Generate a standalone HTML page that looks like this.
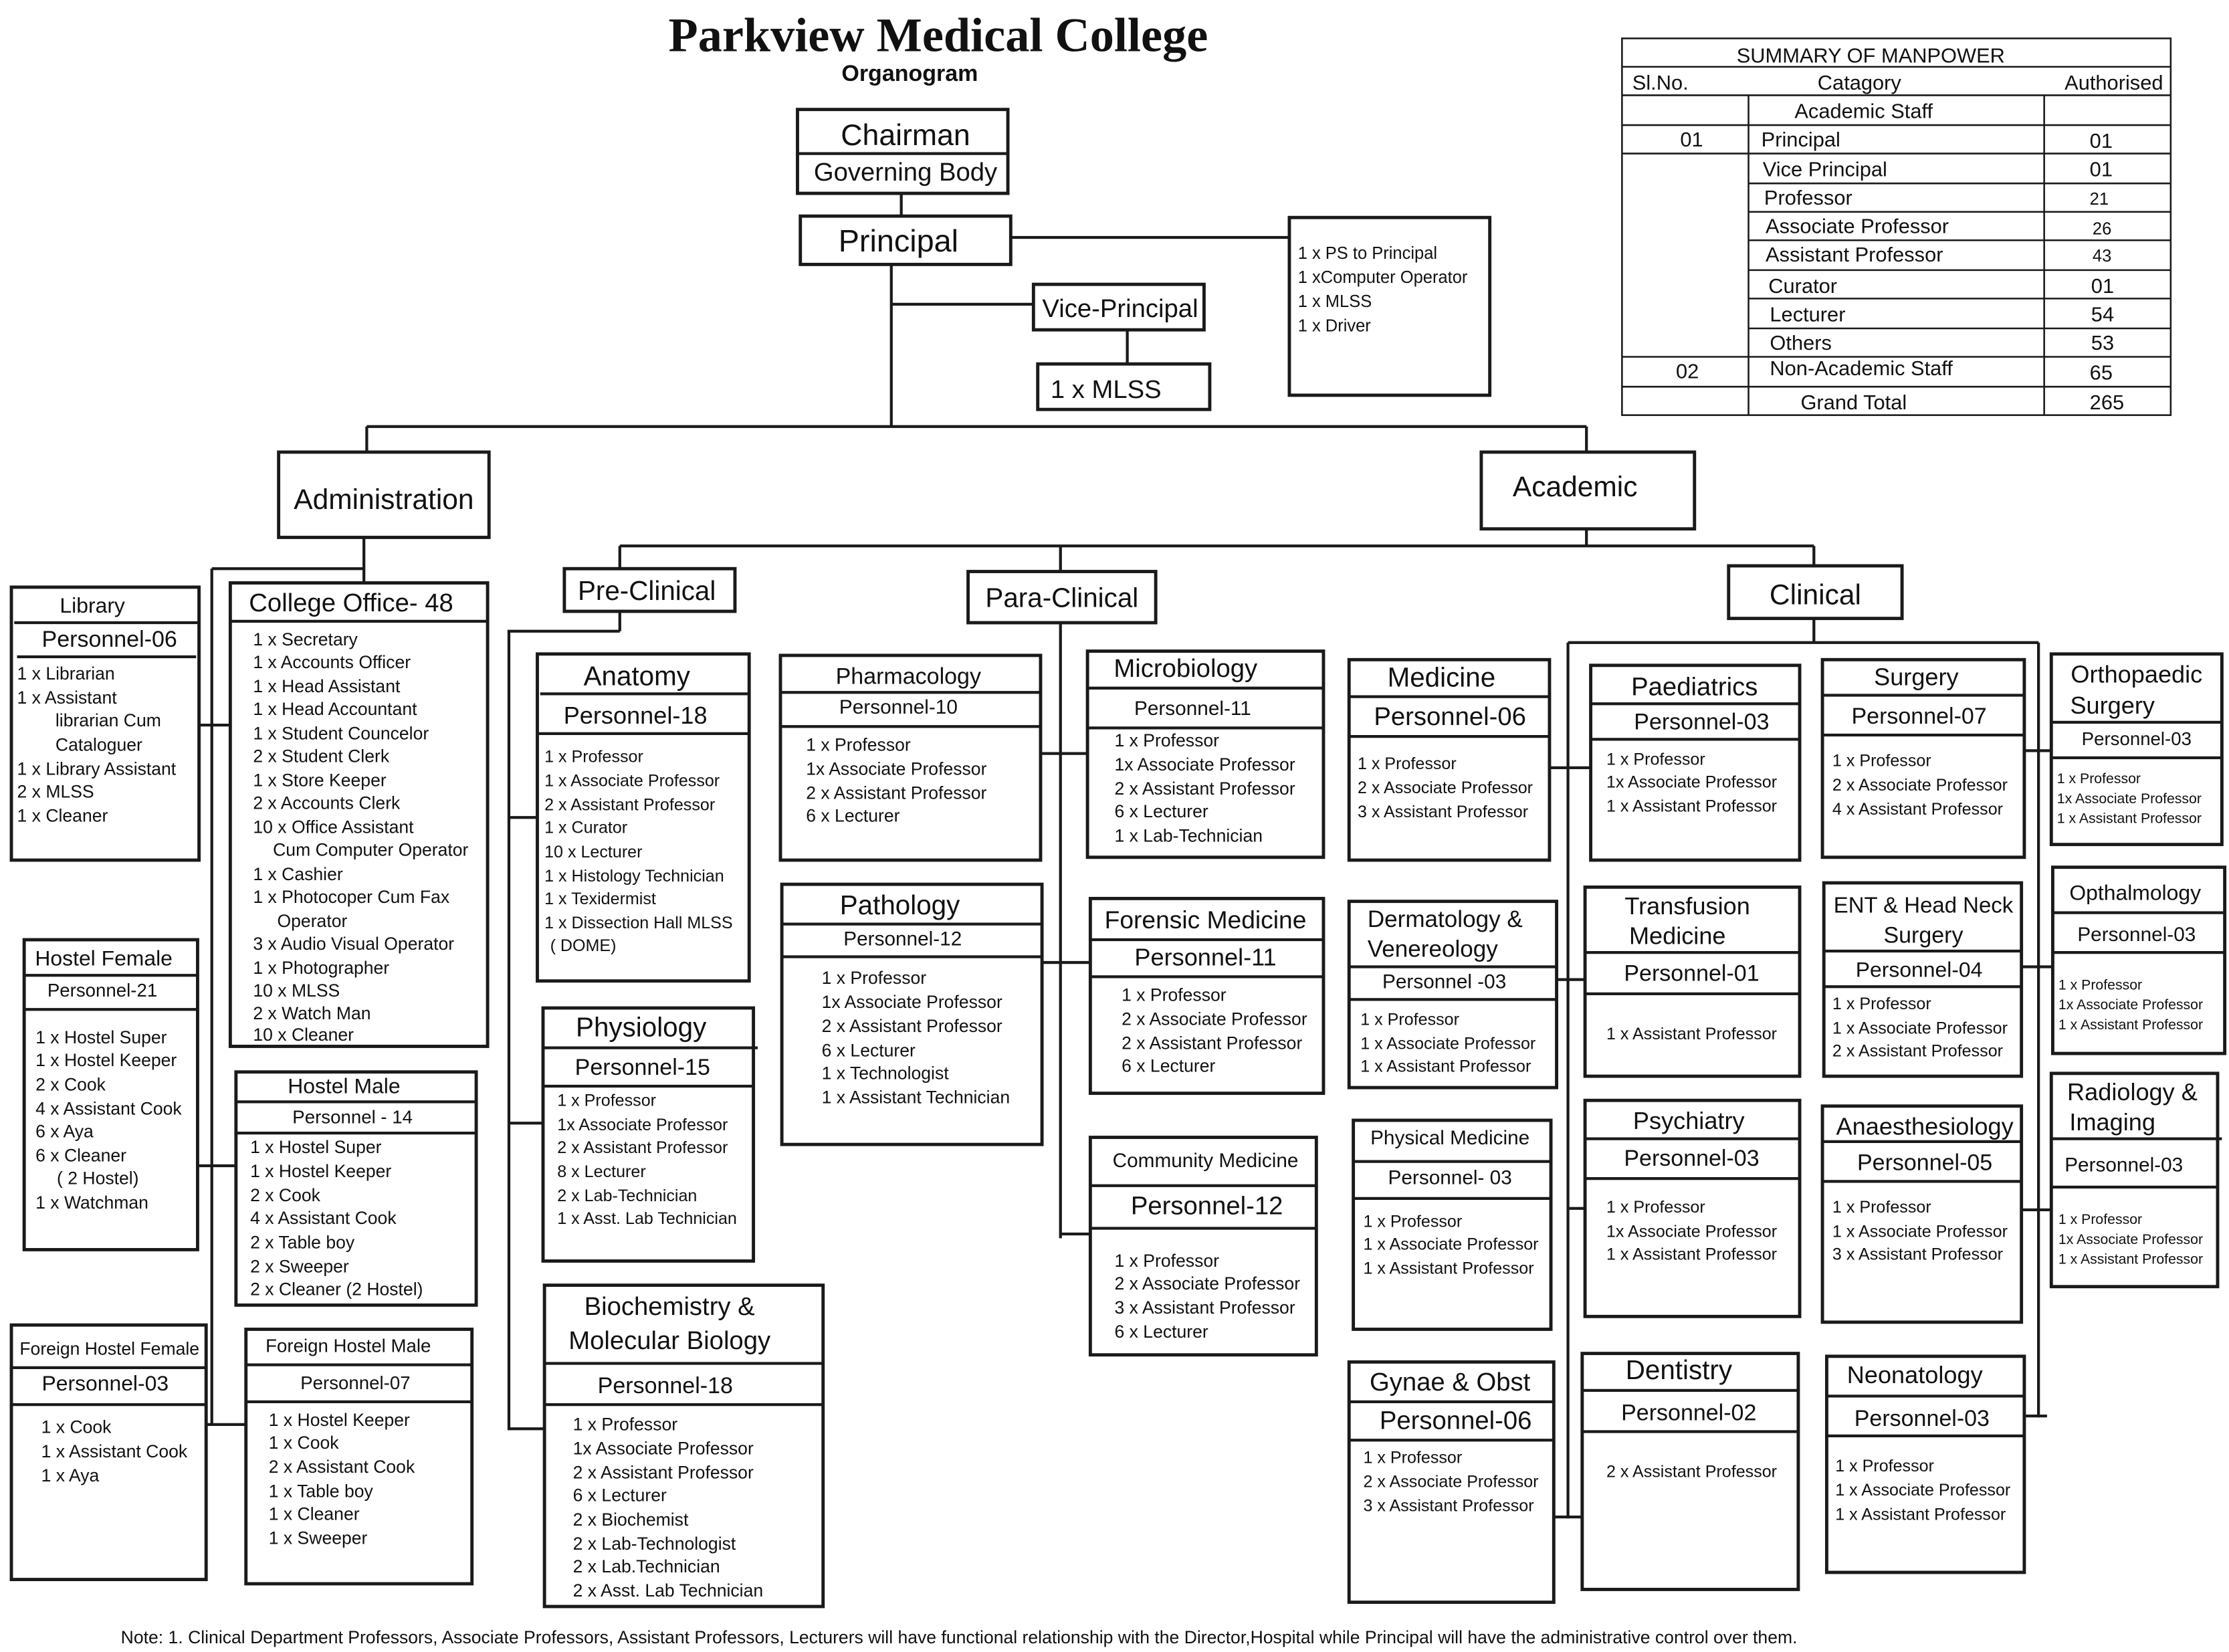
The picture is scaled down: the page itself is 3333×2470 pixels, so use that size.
<!DOCTYPE html>
<html><head><meta charset="utf-8"><style>
html,body{margin:0;padding:0;background:#fff}
svg{display:block}
text{font-family:"Liberation Sans Narrow","Liberation Sans",sans-serif;fill:#111}
.b{fill:none;stroke:#1a1a1a;stroke-width:2.3}
.l{stroke:#1a1a1a;stroke-width:2;fill:none}
.t{stroke:#1a1a1a;stroke-width:1.2;fill:none}
.i{font-size:12.5px}
.s{font-size:11.8px}
</style></head><body>
<svg width="3333" height="2470" viewBox="0 0 1568 1162" preserveAspectRatio="none" xmlns="http://www.w3.org/2000/svg">
<text x="660" y="36" text-anchor="middle" style="font-family:'Liberation Serif',serif;font-weight:bold;font-size:34px">Parkview Medical College</text>
<text x="640" y="57" text-anchor="middle" style="font-family:'Liberation Sans',sans-serif;font-weight:bold;font-size:16px">Organogram</text>

<rect class="t" x="1141" y="27" width="386" height="265"/>
<g class="t">
<line x1="1141" y1="47" x2="1527" y2="47"/>
<line x1="1141" y1="67" x2="1527" y2="67"/>
<line x1="1141" y1="88" x2="1527" y2="88"/>
<line x1="1141" y1="108" x2="1527" y2="108"/>
<line x1="1230" y1="129" x2="1527" y2="129"/>
<line x1="1230" y1="149" x2="1527" y2="149"/>
<line x1="1230" y1="169" x2="1527" y2="169"/>
<line x1="1230" y1="190" x2="1527" y2="190"/>
<line x1="1230" y1="210" x2="1527" y2="210"/>
<line x1="1230" y1="231" x2="1527" y2="231"/>
<line x1="1141" y1="251" x2="1527" y2="251"/>
<line x1="1141" y1="272" x2="1527" y2="272"/>
<line x1="1230" y1="67" x2="1230" y2="292"/>
<line x1="1438" y1="67" x2="1438" y2="292"/>
</g>
<g style="font-size:14.5px">
<text x="1316" y="44" text-anchor="middle">SUMMARY OF MANPOWER</text>
<text x="1168" y="63" text-anchor="middle">Sl.No.</text>
<text x="1308" y="63" text-anchor="middle">Catagory</text>
<text x="1487" y="63" text-anchor="middle">Authorised</text>
<text x="1311" y="83" text-anchor="middle">Academic Staff</text>
<text x="1190" y="103" text-anchor="middle">01</text>
<text x="1239" y="103">Principal</text><text x="1470" y="104">01</text>
<text x="1240" y="124">Vice Principal</text><text x="1470" y="124">01</text>
<text x="1241" y="144">Professor</text><text x="1470" y="144" style="font-size:12px">21</text>
<text x="1242" y="164">Associate Professor</text><text x="1472" y="165" style="font-size:12px">26</text>
<text x="1242" y="184">Assistant Professor</text><text x="1472" y="184" style="font-size:12px">43</text>
<text x="1244" y="206">Curator</text><text x="1471" y="206">01</text>
<text x="1245" y="226">Lecturer</text><text x="1471" y="226">54</text>
<text x="1245" y="246">Others</text><text x="1471" y="246">53</text>
<text x="1187" y="266" text-anchor="middle">02</text>
<text x="1245" y="264">Non-Academic Staff</text><text x="1470" y="267">65</text>
<text x="1304" y="288" text-anchor="middle">Grand Total</text><text x="1470" y="288">265</text>
</g>

<rect class="b" x="561" y="77" width="148" height="59"/>
<line class="l" x1="561" y1="108" x2="709" y2="108"/>
<text x="637" y="102" text-anchor="middle" style="font-size:21px">Chairman</text>
<text x="637" y="127" text-anchor="middle" style="font-size:18px">Governing Body</text>
<line class="l" x1="634" y1="136" x2="634" y2="152"/>
<rect class="b" x="563" y="152" width="148" height="34"/>
<text x="632" y="177" text-anchor="middle" style="font-size:22px">Principal</text>
<line class="l" x1="711" y1="167" x2="907" y2="167"/>
<rect class="b" x="907" y="153" width="141" height="125"/>
<g style="font-size:12px">
<text x="913" y="182">1 x PS to Principal</text>
<text x="913" y="199">1 xComputer Operator</text>
<text x="913" y="216">1 x MLSS</text>
<text x="913" y="233">1 x Driver</text>
</g>
<line class="l" x1="627" y1="186" x2="627" y2="300"/>
<line class="l" x1="627" y1="214" x2="727" y2="214"/>
<rect class="b" x="727" y="200" width="120" height="32"/>
<text x="788" y="223" text-anchor="middle" style="font-size:18px">Vice-Principal</text>
<line class="l" x1="793" y1="232" x2="793" y2="255"/>
<rect class="b" x="730" y="256" width="121" height="32"/>
<text x="778" y="280" text-anchor="middle" style="font-size:18px">1 x MLSS</text>

<line class="l" x1="258" y1="300" x2="1116" y2="300"/>
<line class="l" x1="258" y1="300" x2="258" y2="318"/>
<line class="l" x1="1116" y1="300" x2="1116" y2="318"/>
<rect class="b" x="196" y="318" width="148" height="60"/>
<text x="270" y="358" text-anchor="middle" style="font-size:20px">Administration</text>
<rect class="b" x="1042" y="318" width="150" height="54"/>
<text x="1108" y="349" text-anchor="middle" style="font-size:20px">Academic</text>

<line class="l" x1="256" y1="378" x2="256" y2="410"/>
<line class="l" x1="149" y1="400" x2="256" y2="400"/>
<line class="l" x1="149" y1="400" x2="149" y2="1003"/>
<line class="l" x1="140" y1="510" x2="162" y2="510"/>
<line class="l" x1="139" y1="820" x2="166" y2="820"/>
<line class="l" x1="145" y1="1002" x2="173" y2="1002"/>

<rect class="b" x="8" y="413" width="132" height="192"/>
<line class="l" x1="10" y1="438" x2="140" y2="438"/>
<line class="l" x1="12" y1="462" x2="138" y2="462"/>
<text x="65" y="431" text-anchor="middle" style="font-size:15px">Library</text>
<text x="77" y="455" text-anchor="middle" style="font-size:16px">Personnel-06</text>
<g class="i">
<text x="12" y="478">1 x Librarian</text>
<text x="12" y="495">1 x   Assistant</text>
<text x="39" y="511">librarian Cum</text>
<text x="39" y="528">Cataloguer</text>
<text x="12" y="545">1 x Library Assistant</text>
<text x="12" y="561">2 x MLSS</text>
<text x="12" y="578">1 x Cleaner</text>
</g>

<rect class="b" x="162" y="410" width="181" height="326"/>
<line class="l" x1="162" y1="437" x2="344" y2="437"/>
<text x="247" y="430" text-anchor="middle" style="font-size:18px">College Office- 48</text>
<g class="i">
<text x="178" y="454">1 x  Secretary</text>
<text x="178" y="470">1 x Accounts Officer</text>
<text x="178" y="487">1 x Head Assistant</text>
<text x="178" y="503">1 x Head Accountant</text>
<text x="178" y="520">1 x  Student Councelor</text>
<text x="178" y="536">2 x Student Clerk</text>
<text x="178" y="553">1 x Store Keeper</text>
<text x="178" y="569">2 x Accounts Clerk</text>
<text x="178" y="586">10  x  Office Assistant</text>
<text x="192" y="602">Cum  Computer Operator</text>
<text x="178" y="619">1 x Cashier</text>
<text x="178" y="635">1 x Photocoper Cum Fax</text>
<text x="195" y="652">Operator</text>
<text x="178" y="668">3 x Audio Visual Operator</text>
<text x="178" y="685">1 x Photographer</text>
<text x="178" y="701">10 x MLSS</text>
<text x="178" y="717">2 x Watch Man</text>
<text x="178" y="732">10 x Cleaner</text>
</g>

<rect class="b" x="17" y="661" width="122" height="218"/>
<line class="l" x1="17" y1="686" x2="139" y2="686"/>
<line class="l" x1="17" y1="710" x2="139" y2="710"/>
<text x="73" y="679" text-anchor="middle" style="font-size:15px">Hostel Female</text>
<text x="72" y="701" text-anchor="middle" style="font-size:13px">Personnel-21</text>
<g class="i">
<text x="25" y="734">1 x Hostel Super</text>
<text x="25" y="750">1 x Hostel Keeper</text>
<text x="25" y="767">2 x Cook</text>
<text x="25" y="784">4 x Assistant Cook</text>
<text x="25" y="800">6 x Aya</text>
<text x="25" y="817">6 x Cleaner</text>
<text x="40" y="833">( 2 Hostel)</text>
<text x="25" y="850">1 x Watchman</text>
</g>

<rect class="b" x="166" y="754" width="169" height="164"/>
<line class="l" x1="166" y1="775" x2="335" y2="775"/>
<line class="l" x1="166" y1="797" x2="335" y2="797"/>
<text x="242" y="769" text-anchor="middle" style="font-size:15px">Hostel Male</text>
<text x="248" y="790" text-anchor="middle" style="font-size:13px">Personnel - 14</text>
<g class="i">
<text x="176" y="811">1 x Hostel Super</text>
<text x="176" y="828">1 x Hostel Keeper</text>
<text x="176" y="845">2 x Cook</text>
<text x="176" y="861">4 x Assistant Cook</text>
<text x="176" y="878">2 x Table boy</text>
<text x="176" y="895">2 x Sweeper</text>
<text x="176" y="911">2 x Cleaner (2 Hostel)</text>
</g>

<rect class="b" x="8" y="932" width="137" height="179"/>
<line class="l" x1="8" y1="962" x2="145" y2="962"/>
<line class="l" x1="8" y1="988" x2="145" y2="988"/>
<text x="77" y="953" text-anchor="middle" style="font-size:12.5px">Foreign Hostel Female</text>
<text x="74" y="978" text-anchor="middle" style="font-size:15px">Personnel-03</text>
<g class="i">
<text x="29" y="1008">1 x Cook</text>
<text x="29" y="1025">1 x Assistant Cook</text>
<text x="29" y="1042">1 x Aya</text>
</g>

<rect class="b" x="173" y="935" width="159" height="179"/>
<line class="l" x1="173" y1="960" x2="332" y2="960"/>
<line class="l" x1="173" y1="986" x2="332" y2="986"/>
<text x="245" y="951" text-anchor="middle" style="font-size:13px">Foreign Hostel Male</text>
<text x="250" y="977" text-anchor="middle" style="font-size:13px">Personnel-07</text>
<g class="i">
<text x="189" y="1003">1 x Hostel  Keeper</text>
<text x="189" y="1019">1 x Cook</text>
<text x="189" y="1036">2 x Assistant Cook</text>
<text x="189" y="1053">1 x Table boy</text>
<text x="189" y="1069">1 x Cleaner</text>
<text x="189" y="1086">1 x Sweeper</text>
</g>

<line class="l" x1="1116" y1="372" x2="1116" y2="384"/>
<line class="l" x1="436" y1="384" x2="1276" y2="384"/>
<line class="l" x1="436" y1="384" x2="436" y2="400"/>
<line class="l" x1="746" y1="384" x2="746" y2="402"/>
<line class="l" x1="1276" y1="384" x2="1276" y2="398"/>
<rect class="b" x="397" y="400" width="120" height="30"/>
<text x="455" y="422" text-anchor="middle" style="font-size:19px">Pre-Clinical</text>
<rect class="b" x="681" y="402" width="132" height="36"/>
<text x="747" y="427" text-anchor="middle" style="font-size:19px">Para-Clinical</text>
<rect class="b" x="1216" y="398" width="122" height="37"/>
<text x="1277" y="425" text-anchor="middle" style="font-size:20px">Clinical</text>

<line class="l" x1="436" y1="430" x2="436" y2="444"/>
<line class="l" x1="357" y1="444" x2="436" y2="444"/>
<line class="l" x1="358" y1="444" x2="358" y2="1006"/>
<line class="l" x1="358" y1="575" x2="378" y2="575"/>
<line class="l" x1="358" y1="790" x2="382" y2="790"/>
<line class="l" x1="358" y1="1005" x2="383" y2="1005"/>

<rect class="b" x="378" y="460" width="149" height="230"/>
<line class="l" x1="380" y1="488" x2="527" y2="488"/>
<line class="l" x1="378" y1="516" x2="527" y2="516"/>
<text x="448" y="482" text-anchor="middle" style="font-size:19px">Anatomy</text>
<text x="447" y="509" text-anchor="middle" style="font-size:17px">Personnel-18</text>
<g class="s">
<text x="383" y="536">1 x Professor</text>
<text x="383" y="553">1 x Associate Professor</text>
<text x="383" y="570">2 x Assistant Professor</text>
<text x="383" y="586">1 x Curator</text>
<text x="383" y="603">10 x Lecturer</text>
<text x="383" y="620">1 x Histology Technician</text>
<text x="383" y="636">1 x Texidermist</text>
<text x="383" y="653">1 x Dissection Hall MLSS</text>
<text x="387" y="669">( DOME)</text>
</g>

<rect class="b" x="382" y="709" width="148" height="178"/>
<line class="l" x1="382" y1="737" x2="533" y2="737"/>
<line class="l" x1="382" y1="764" x2="530" y2="764"/>
<text x="451" y="729" text-anchor="middle" style="font-size:19px">Physiology</text>
<text x="452" y="756" text-anchor="middle" style="font-size:16px">Personnel-15</text>
<g class="s">
<text x="392" y="778">1 x Professor</text>
<text x="392" y="795">1x Associate Professor</text>
<text x="392" y="811">2 x Assistant Professor</text>
<text x="392" y="828">8 x Lecturer</text>
<text x="392" y="845">2 x Lab-Technician</text>
<text x="392" y="861">1 x Asst. Lab Technician</text>
</g>

<rect class="b" x="383" y="904" width="196" height="226"/>
<line class="l" x1="383" y1="959" x2="579" y2="959"/>
<line class="l" x1="383" y1="988" x2="579" y2="988"/>
<text x="471" y="925" text-anchor="middle" style="font-size:18px">Biochemistry &amp;</text>
<text x="471" y="949" text-anchor="middle" style="font-size:18px">Molecular Biology</text>
<text x="468" y="980" text-anchor="middle" style="font-size:16px">Personnel-18</text>
<g class="i">
<text x="403" y="1006">1 x Professor</text>
<text x="403" y="1023">1x Associate Professor</text>
<text x="403" y="1040">2 x Assistant Professor</text>
<text x="403" y="1056">6 x Lecturer</text>
<text x="403" y="1073">2 x Biochemist</text>
<text x="403" y="1090">2 x Lab-Technologist</text>
<text x="403" y="1106">2 x Lab.Technician</text>
<text x="403" y="1123">2 x Asst. Lab Technician</text>
</g>

<line class="l" x1="746" y1="438" x2="746" y2="871"/>
<line class="l" x1="732" y1="530" x2="765" y2="530"/>
<line class="l" x1="733" y1="677" x2="767" y2="677"/>
<line class="l" x1="746" y1="868" x2="767" y2="868"/>

<rect class="b" x="549" y="461" width="183" height="144"/>
<line class="l" x1="549" y1="487" x2="732" y2="487"/>
<line class="l" x1="549" y1="511" x2="732" y2="511"/>
<text x="639" y="481" text-anchor="middle" style="font-size:16px">Pharmacology</text>
<text x="632" y="502" text-anchor="middle" style="font-size:14px">Personnel-10</text>
<g class="i">
<text x="567" y="528">1 x Professor</text>
<text x="567" y="545">1x Associate Professor</text>
<text x="567" y="562">2 x Assistant Professor</text>
<text x="567" y="578">6 x Lecturer</text>
</g>

<rect class="b" x="550" y="622" width="183" height="183"/>
<line class="l" x1="550" y1="650" x2="733" y2="650"/>
<line class="l" x1="550" y1="673" x2="733" y2="673"/>
<text x="633" y="643" text-anchor="middle" style="font-size:19px">Pathology</text>
<text x="635" y="665" text-anchor="middle" style="font-size:14px">Personnel-12</text>
<g class="i">
<text x="578" y="692">1 x Professor</text>
<text x="578" y="709">1x Associate Professor</text>
<text x="578" y="726">2 x Assistant Professor</text>
<text x="578" y="743">6 x Lecturer</text>
<text x="578" y="759">1 x Technologist</text>
<text x="578" y="776">1 x Assistant Technician</text>
</g>

<rect class="b" x="765" y="458" width="166" height="145"/>
<line class="l" x1="765" y1="484" x2="931" y2="484"/>
<line class="l" x1="765" y1="512" x2="931" y2="512"/>
<text x="834" y="476" text-anchor="middle" style="font-size:18px">Microbiology</text>
<text x="839" y="503" text-anchor="middle" style="font-size:14px">Personnel-11</text>
<g class="i">
<text x="784" y="525">1 x Professor</text>
<text x="784" y="542">1x Associate Professor</text>
<text x="784" y="559">2 x Assistant Professor</text>
<text x="784" y="575">6 x Lecturer</text>
<text x="784" y="592">1 x Lab-Technician</text>
</g>

<rect class="b" x="767" y="632" width="164" height="137"/>
<line class="l" x1="767" y1="661" x2="931" y2="661"/>
<line class="l" x1="767" y1="687" x2="931" y2="687"/>
<text x="848" y="653" text-anchor="middle" style="font-size:17.5px">Forensic Medicine</text>
<text x="848" y="679" text-anchor="middle" style="font-size:17px">Personnel-11</text>
<g class="i">
<text x="789" y="704">1 x Professor</text>
<text x="789" y="721">2 x Associate Professor</text>
<text x="789" y="738">2 x Assistant Professor</text>
<text x="789" y="754">6 x Lecturer</text>
</g>

<rect class="b" x="767" y="800" width="159" height="153"/>
<line class="l" x1="767" y1="834" x2="926" y2="834"/>
<line class="l" x1="767" y1="864" x2="926" y2="864"/>
<text x="848" y="821" text-anchor="middle" style="font-size:14px">Community Medicine</text>
<text x="849" y="854" text-anchor="middle" style="font-size:18px">Personnel-12</text>
<g class="i">
<text x="784" y="891">1 x Professor</text>
<text x="784" y="907">2 x Associate Professor</text>
<text x="784" y="924">3 x Assistant Professor</text>
<text x="784" y="941">6 x Lecturer</text>
</g>

<line class="l" x1="1276" y1="435" x2="1276" y2="452"/>
<line class="l" x1="1103" y1="452" x2="1434" y2="452"/>
<line class="l" x1="1103" y1="452" x2="1103" y2="1068"/>
<line class="l" x1="1434" y1="452" x2="1434" y2="997"/>
<line class="l" x1="1090" y1="540" x2="1119" y2="540"/>
<line class="l" x1="1095" y1="689" x2="1115" y2="689"/>
<line class="l" x1="1103" y1="850" x2="1115" y2="850"/>
<line class="l" x1="1093" y1="1067" x2="1113" y2="1067"/>
<line class="l" x1="1424" y1="528" x2="1443" y2="528"/>
<line class="l" x1="1422" y1="680" x2="1444" y2="680"/>
<line class="l" x1="1422" y1="851" x2="1443" y2="851"/>
<line class="l" x1="1424" y1="996" x2="1440" y2="996"/>

<rect class="b" x="949" y="464" width="141" height="141"/>
<line class="l" x1="949" y1="490" x2="1090" y2="490"/>
<line class="l" x1="949" y1="518" x2="1090" y2="518"/>
<text x="1014" y="483" text-anchor="middle" style="font-size:19px">Medicine</text>
<text x="1020" y="510" text-anchor="middle" style="font-size:18px">Personnel-06</text>
<g class="s">
<text x="955" y="541">1 x Professor</text>
<text x="955" y="558">2 x Associate Professor</text>
<text x="955" y="575">3 x Assistant Professor</text>
</g>

<rect class="b" x="949" y="634" width="146" height="131"/>
<line class="l" x1="949" y1="680" x2="1095" y2="680"/>
<line class="l" x1="949" y1="703" x2="1095" y2="703"/>
<text x="962" y="652" style="font-size:16.5px">Dermatology &amp;</text>
<text x="962" y="673" style="font-size:16.5px">Venereology</text>
<text x="1016" y="695" text-anchor="middle" style="font-size:14px">Personnel -03</text>
<g class="s">
<text x="957" y="721">1 x Professor</text>
<text x="957" y="738">1 x Associate Professor</text>
<text x="957" y="754">1 x Assistant Professor</text>
</g>

<rect class="b" x="952" y="788" width="139" height="147"/>
<line class="l" x1="952" y1="817" x2="1091" y2="817"/>
<line class="l" x1="952" y1="843" x2="1091" y2="843"/>
<text x="1020" y="805" text-anchor="middle" style="font-size:14px">Physical Medicine</text>
<text x="1020" y="833" text-anchor="middle" style="font-size:14px">Personnel- 03</text>
<g class="s">
<text x="959" y="863">1 x Professor</text>
<text x="959" y="879">1 x Associate Professor</text>
<text x="959" y="896">1 x Assistant Professor</text>
</g>

<rect class="b" x="949" y="958" width="144" height="169"/>
<line class="l" x1="949" y1="986" x2="1093" y2="986"/>
<line class="l" x1="949" y1="1013" x2="1093" y2="1013"/>
<text x="1020" y="978" text-anchor="middle" style="font-size:18px">Gynae &amp; Obst</text>
<text x="1024" y="1005" text-anchor="middle" style="font-size:18px">Personnel-06</text>
<g class="s">
<text x="959" y="1029">1 x Professor</text>
<text x="959" y="1046">2 x Associate Professor</text>
<text x="959" y="1063">3 x Assistant Professor</text>
</g>

<rect class="b" x="1119" y="468" width="147" height="137"/>
<line class="l" x1="1119" y1="495" x2="1266" y2="495"/>
<line class="l" x1="1119" y1="520" x2="1266" y2="520"/>
<text x="1192" y="489" text-anchor="middle" style="font-size:18px">Paediatrics</text>
<text x="1197" y="513" text-anchor="middle" style="font-size:16px">Personnel-03</text>
<g class="s">
<text x="1130" y="538">1 x Professor</text>
<text x="1130" y="554">1x Associate Professor</text>
<text x="1130" y="571">1 x Assistant Professor</text>
</g>

<rect class="b" x="1115" y="624" width="151" height="133"/>
<line class="l" x1="1115" y1="670" x2="1266" y2="670"/>
<line class="l" x1="1115" y1="699" x2="1266" y2="699"/>
<text x="1187" y="643" text-anchor="middle" style="font-size:17px">Transfusion</text>
<text x="1180" y="664" text-anchor="middle" style="font-size:17px">Medicine</text>
<text x="1190" y="690" text-anchor="middle" style="font-size:16px">Personnel-01</text>
<text x="1130" y="731" class="s">1 x Assistant Professor</text>

<rect class="b" x="1115" y="774" width="151" height="152"/>
<line class="l" x1="1115" y1="801" x2="1266" y2="801"/>
<line class="l" x1="1115" y1="829" x2="1266" y2="829"/>
<text x="1188" y="794" text-anchor="middle" style="font-size:17px">Psychiatry</text>
<text x="1190" y="820" text-anchor="middle" style="font-size:16px">Personnel-03</text>
<g class="s">
<text x="1130" y="853">1 x Professor</text>
<text x="1130" y="870">1x Associate Professor</text>
<text x="1130" y="886">1 x Assistant Professor</text>
</g>

<rect class="b" x="1113" y="952" width="152" height="166"/>
<line class="l" x1="1113" y1="978" x2="1265" y2="978"/>
<line class="l" x1="1113" y1="1007" x2="1265" y2="1007"/>
<text x="1181" y="970" text-anchor="middle" style="font-size:19px">Dentistry</text>
<text x="1188" y="999" text-anchor="middle" style="font-size:16px">Personnel-02</text>
<text x="1130" y="1039" class="s">2 x Assistant Professor</text>

<rect class="b" x="1282" y="464" width="142" height="139"/>
<line class="l" x1="1282" y1="489" x2="1424" y2="489"/>
<line class="l" x1="1282" y1="517" x2="1424" y2="517"/>
<text x="1348" y="482" text-anchor="middle" style="font-size:17px">Surgery</text>
<text x="1350" y="509" text-anchor="middle" style="font-size:16px">Personnel-07</text>
<g class="s">
<text x="1289" y="539">1 x Professor</text>
<text x="1289" y="556">2 x Associate Professor</text>
<text x="1289" y="573">4 x Assistant Professor</text>
</g>

<rect class="b" x="1283" y="621" width="139" height="136"/>
<line class="l" x1="1283" y1="669" x2="1422" y2="669"/>
<line class="l" x1="1283" y1="694" x2="1422" y2="694"/>
<text x="1353" y="642" text-anchor="middle" style="font-size:15.5px">ENT &amp; Head Neck</text>
<text x="1353" y="663" text-anchor="middle" style="font-size:16px">Surgery</text>
<text x="1350" y="687" text-anchor="middle" style="font-size:15px">Personnel-04</text>
<g class="s">
<text x="1289" y="710">1 x Professor</text>
<text x="1289" y="727">1 x Associate Professor</text>
<text x="1289" y="743">2 x Assistant Professor</text>
</g>

<rect class="b" x="1282" y="778" width="140" height="152"/>
<line class="l" x1="1282" y1="803" x2="1422" y2="803"/>
<line class="l" x1="1282" y1="831" x2="1422" y2="831"/>
<text x="1354" y="798" text-anchor="middle" style="font-size:17px">Anaesthesiology</text>
<text x="1354" y="823" text-anchor="middle" style="font-size:16px">Personnel-05</text>
<g class="s">
<text x="1289" y="853">1 x Professor</text>
<text x="1289" y="870">1 x Associate Professor</text>
<text x="1289" y="886">3 x Assistant Professor</text>
</g>

<rect class="b" x="1285" y="954" width="139" height="152"/>
<line class="l" x1="1285" y1="982" x2="1424" y2="982"/>
<line class="l" x1="1285" y1="1010" x2="1424" y2="1010"/>
<text x="1347" y="973" text-anchor="middle" style="font-size:17px">Neonatology</text>
<text x="1352" y="1003" text-anchor="middle" style="font-size:16px">Personnel-03</text>
<g class="s">
<text x="1291" y="1035">1 x Professor</text>
<text x="1291" y="1052">1 x Associate Professor</text>
<text x="1291" y="1069">1 x Assistant Professor</text>
</g>

<rect class="b" x="1443" y="460" width="120" height="134"/>
<line class="l" x1="1443" y1="508" x2="1563" y2="508"/>
<line class="l" x1="1443" y1="533" x2="1563" y2="533"/>
<text x="1503" y="480" text-anchor="middle" style="font-size:17px">Orthopaedic</text>
<text x="1486" y="502" text-anchor="middle" style="font-size:17px">Surgery</text>
<text x="1503" y="524" text-anchor="middle" style="font-size:13px">Personnel-03</text>
<g style="font-size:10px">
<text x="1447" y="551">1 x Professor</text>
<text x="1447" y="565">1x Associate Professor</text>
<text x="1447" y="579">1 x Assistant Professor</text>
</g>

<rect class="b" x="1444" y="610" width="121" height="131"/>
<line class="l" x1="1444" y1="642" x2="1565" y2="642"/>
<line class="l" x1="1444" y1="670" x2="1565" y2="670"/>
<text x="1502" y="633" text-anchor="middle" style="font-size:15px">Opthalmology</text>
<text x="1503" y="662" text-anchor="middle" style="font-size:14px">Personnel-03</text>
<g style="font-size:10px">
<text x="1448" y="696">1 x Professor</text>
<text x="1448" y="710">1x Associate Professor</text>
<text x="1448" y="724">1 x Assistant Professor</text>
</g>

<rect class="b" x="1443" y="755" width="117" height="150"/>
<line class="l" x1="1443" y1="801" x2="1563" y2="801"/>
<line class="l" x1="1443" y1="835" x2="1560" y2="835"/>
<text x="1500" y="774" text-anchor="middle" style="font-size:17px">Radiology &amp;</text>
<text x="1486" y="795" text-anchor="middle" style="font-size:17px">Imaging</text>
<text x="1494" y="824" text-anchor="middle" style="font-size:14px">Personnel-03</text>
<g style="font-size:10px">
<text x="1448" y="861">1 x Professor</text>
<text x="1448" y="875">1x Associate Professor</text>
<text x="1448" y="889">1 x Assistant Professor</text>
</g>

<text x="85" y="1156" style="font-size:12.5px">Note: 1. Clinical Department Professors, Associate Professors, Assistant Professors, Lecturers will have functional relationship with the Director,Hospital while Principal will have the administrative control over them.</text>
</svg>
</body></html>
